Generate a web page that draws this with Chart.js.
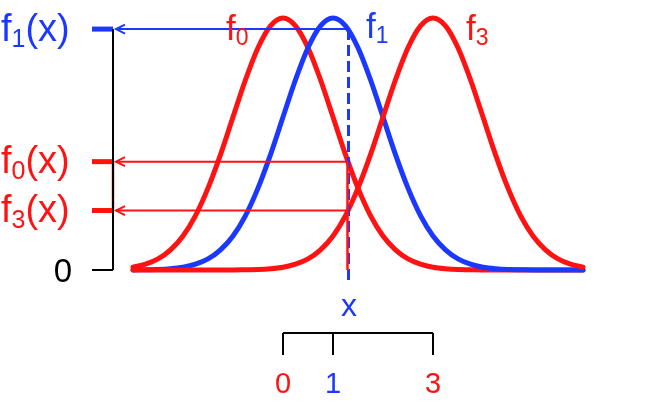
<!DOCTYPE html>
<html>
<head>
<meta charset="utf-8">
<script src="https://cdn.jsdelivr.net/npm/chart.js@4"></script>
<style>
  body { margin: 0; background: #fff; }
  canvas { display: block; }
</style>
</head>
<body>
<canvas id="chartDens" width="654" height="408"></canvas>
<script>
// data
const xs = [-3, -2.75, -2.5, -2.25, -2, -1.75, -1.5, -1.25, -1, -0.75, -0.5, -0.25,
  0, 0.25, 0.5, 0.75, 1, 1.25, 1.5, 1.75, 2, 2.25, 2.5, 2.75, 3, 3.25, 3.5, 3.75,
  4, 4.25, 4.5, 4.75, 5, 5.25, 5.5, 5.75, 6];
const f0 = [0.011, 0.023, 0.044, 0.080, 0.135, 0.216, 0.325, 0.458, 0.607, 0.755, 0.882, 0.969,
  1.000, 0.969, 0.882, 0.755, 0.607, 0.458, 0.325, 0.216, 0.135, 0.080, 0.044, 0.023, 0.011, 0.005, 0.002, 0.001,
  0, 0, 0, 0, 0, 0, 0, 0, 0];
const f1 = [0, 0.001, 0.002, 0.005, 0.011, 0.023, 0.044, 0.080, 0.135, 0.216, 0.325, 0.458,
  0.607, 0.755, 0.882, 0.969, 1.000, 0.969, 0.882, 0.755, 0.607, 0.458, 0.325, 0.216, 0.135, 0.080, 0.044, 0.023,
  0.011, 0.005, 0.002, 0.001, 0, 0, 0, 0, 0];
const f3 = [0, 0, 0, 0, 0, 0, 0, 0, 0, 0.001, 0.002, 0.005,
  0.011, 0.023, 0.044, 0.080, 0.135, 0.216, 0.325, 0.458, 0.607, 0.755, 0.882, 0.969, 1.000, 0.969, 0.882, 0.755,
  0.607, 0.458, 0.325, 0.216, 0.135, 0.080, 0.044, 0.023, 0.011];

const xMark = 1.3;                 // the marked x
const levels = { f1: 0.956, f0: 0.430, f3: 0.236 };   // f_k(x) at xMark
const bracketTicks = [0, 1, 3];
const tickLabels = ['0', '1', '3'];

const RED = 'rgb(255,18,18)';
const BLUE = 'rgb(26,56,255)';
const BLACK = '#000';

const axisX = -3.4, tickX0 = -3.82, arrowTip = -3.34;
const brY = -0.25, brY2 = -0.337;

function curve(ys) { return xs.map((x, i) => ({ x: x, y: ys[i] })); }
function seg(x0, y0, x1, y1) { return [{ x: x0, y: y0 }, { x: x1, y: y1 }]; }

function lineSet(data, color, width, extra) {
  return Object.assign({
    data: data, borderColor: color, borderWidth: width,
    pointRadius: 0, fill: false, order: 0, borderCapStyle: 'butt'
  }, extra || {});
}

const datasets = [
  lineSet(curve(f0), RED, 5, { order: 3, cubicInterpolationMode: 'monotone', borderCapStyle: 'round' }),
  lineSet(curve(f1), BLUE, 5, { order: 2, cubicInterpolationMode: 'monotone', borderCapStyle: 'round' }),
  lineSet(curve(f3), RED, 5, { order: 1, cubicInterpolationMode: 'monotone', borderCapStyle: 'round' }),
  // left axis
  lineSet(seg(axisX, 0, axisX, levels.f1), BLACK, 2),
  lineSet(seg(tickX0, 0, axisX, 0), BLACK, 2),
  lineSet(seg(axisX, levels.f3, axisX, levels.f0), RED, 2.5),
  lineSet(seg(tickX0, levels.f1, axisX, levels.f1), BLUE, 5),
  lineSet(seg(tickX0, levels.f0, axisX, levels.f0), RED, 5),
  lineSet(seg(tickX0, levels.f3, axisX, levels.f3), RED, 5),
  // arrows
  lineSet(seg(xMark, levels.f1, arrowTip, levels.f1), BLUE, 2),
  lineSet(seg(xMark, levels.f0, arrowTip, levels.f0), RED, 2),
  lineSet(seg(xMark, levels.f3, arrowTip, levels.f3), RED, 2),
  // vertical at x
  lineSet(seg(xMark - 0.01, levels.f0, xMark - 0.01, 0), RED, 2.5),
  lineSet(seg(xMark + 0.01, levels.f1, xMark + 0.01, -0.046), BLUE, 3, { borderDash: [11, 5] }),
  // bracket
  lineSet(seg(bracketTicks[0], brY, bracketTicks[bracketTicks.length - 1], brY), BLACK, 2)
].concat(bracketTicks.map(t => lineSet(seg(t, brY, t, brY2), BLACK, 2)));

function drawF(ctx, x, y, sub, rest, color, size, subSize) {
  ctx.fillStyle = color;
  ctx.textAlign = 'left';
  ctx.textBaseline = 'alphabetic';
  ctx.font = size + 'px "Liberation Sans", Arial, sans-serif';
  ctx.fillText('f', x, y);
  x += ctx.measureText('f').width;
  ctx.font = subSize + 'px "Liberation Sans", Arial, sans-serif';
  ctx.fillText(sub, x, y + Math.round(size * 0.15));
  x += ctx.measureText(sub).width;
  if (rest) {
    ctx.font = size + 'px "Liberation Sans", Arial, sans-serif';
    ctx.fillText(rest, x, y);
  }
}

const annot = {
  id: 'annot',
  afterDatasetsDraw(chart) {
    const ctx = chart.ctx;
    const sx = chart.scales.x, sy = chart.scales.y;
    ctx.save();
    // arrowheads
    [['f1', BLUE], ['f0', RED], ['f3', RED]].forEach(([k, c]) => {
      const px = sx.getPixelForValue(arrowTip), py = sy.getPixelForValue(levels[k]);
      ctx.strokeStyle = c;
      ctx.lineWidth = 2;
      ctx.beginPath();
      ctx.moveTo(px + 9, py - 4.5);
      ctx.lineTo(px, py);
      ctx.lineTo(px + 9, py + 4.5);
      ctx.stroke();
    });
    // left labels
    drawF(ctx, 1, sy.getPixelForValue(levels.f1) + 12, '1', '(x)', BLUE, 38, 25);
    drawF(ctx, 1, sy.getPixelForValue(levels.f0) + 11, '0', '(x)', RED, 38, 25);
    drawF(ctx, 1, sy.getPixelForValue(levels.f3) + 11, '3', '(x)', RED, 38, 25);
    ctx.fillStyle = BLACK;
    ctx.font = '33px "Liberation Sans", Arial, sans-serif';
    ctx.textAlign = 'right';
    ctx.fillText('0', 72, sy.getPixelForValue(0) + 12);
    // curve labels
    const top = sy.getPixelForValue(1) + 22;
    drawF(ctx, sx.getPixelForValue(-1.14), top, '0', '', RED, 35, 23);
    drawF(ctx, sx.getPixelForValue(1.66), top - 2, '1', '', BLUE, 35, 23);
    drawF(ctx, sx.getPixelForValue(3.66), top, '3', '', RED, 35, 23);
    // x label
    ctx.fillStyle = BLUE;
    ctx.textAlign = 'center';
    ctx.font = '32px "Liberation Sans", Arial, sans-serif';
    ctx.fillText('x', sx.getPixelForValue(xMark) + 1, sy.getPixelForValue(0) + 46);
    // bracket tick labels
    ctx.font = '29px "Liberation Sans", Arial, sans-serif';
    bracketTicks.forEach((t, i) => {
      ctx.fillStyle = t === 1 ? BLUE : RED;
      ctx.fillText(tickLabels[i], sx.getPixelForValue(t), sy.getPixelForValue(brY2) + 38);
    });
    ctx.restore();
  }
};

new Chart('chartDens', {
  type: 'line',
  data: { datasets: datasets },
  options: {
    responsive: false,
    animation: false,
    layout: { padding: 0 },
    plugins: { legend: false, tooltip: { enabled: false } },
    scales: {
      x: { type: 'linear', display: false, min: -5.66, max: 7.42 },
      y: { type: 'linear', display: false, min: -0.5476, max: 1.0714 }
    }
  },
  plugins: [annot]
});
</script>
</body>
</html>
